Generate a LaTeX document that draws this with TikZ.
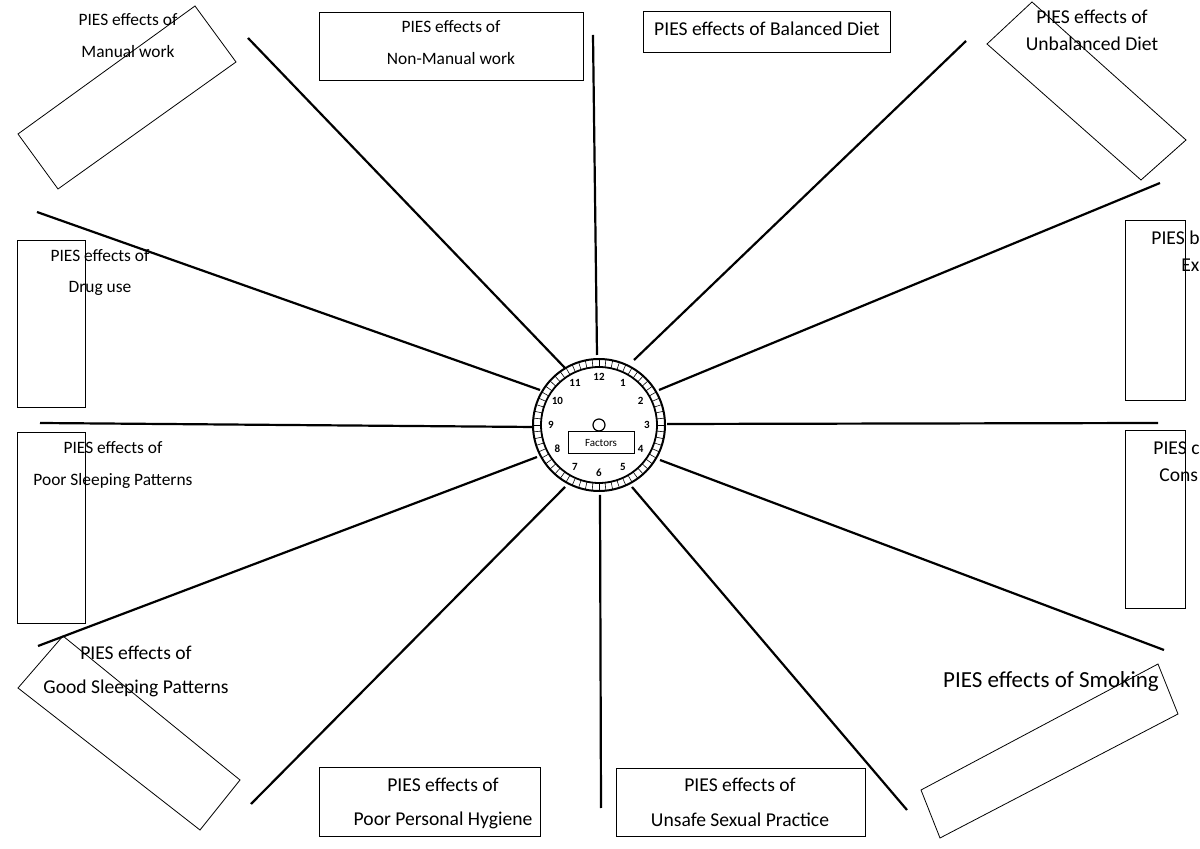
\documentclass[tikz,border=0pt]{standalone}
\usepackage{fontspec}
\setmainfont{Carlito}
\begin{document}
\begin{tikzpicture}[x=0.5pt,y=-0.5pt,
  spoke/.style={line width=1.1pt},
  box/.style={line width=0.4pt},
  lab/.style={font=\fontsize{8.7}{9}\selectfont,inner sep=0pt},
  labb/.style={font=\fontsize{9.8}{10}\selectfont,inner sep=0pt}]
\useasboundingbox (0,0) rectangle (1200,849);
\clip (0,0) rectangle (1200,849);
% spokes
\foreach \i/\a/\b/\c/\d in {1/248/38/565/368,2/593/35/597/355,3/966/41/634/360,4/1160/183/659/390,5/1158/423/667/424,6/1164/650/660/460,7/907/810/632/487,8/601/808/600/495,9/251/804/565/487,10/38/646/537/457,11/40/423/535/427,12/37/212/540/390}
  {\coordinate (s\i a) at (\a,\b); \coordinate (s\i b) at (\c,\d); \draw[spoke] (s\i a) -- (s\i b);}
% boxes
\draw[box] (18,134) -- (195,6) -- (236,62) -- (58,189) -- cycle;
\node[lab] (t1) at (128,20) {PIES effects of};
\node[lab] (t1b) at (128,52) {Manual work};
\draw[box] (319,12) rectangle (583,80);
\node[lab] (t2) at (451,27) {PIES effects of};
\node[lab] (t2b) at (451,59) {Non-Manual work};
\draw[box] (643,11) rectangle (890,52);
\node[labb] (t3) at (767,29) {PIES effects of Balanced Diet};
\draw[box] (987,44) -- (1032,2) -- (1186,140) -- (1141,180) -- cycle;
\node[labb] (t4) at (1092,17) {PIES effects of};
\node[labb] (t4b) at (1092,44) {Unbalanced Diet};
\draw[box] (1125,220) rectangle (1185,400);
\node[labb,anchor=west] (t5) at (1151,238) {PIES b};
\node[labb,anchor=west] (t5b) at (1181,265) {Ex};
\draw[box] (1125,430) rectangle (1185,608);
\node[labb,anchor=west] (t6) at (1153,448) {PIES c};
\node[labb,anchor=west] (t6b) at (1159,475) {Cons};
\draw[box] (17,240) rectangle (85,407);
\node[lab] (t7) at (100,256) {PIES effects of};
\node[lab] (t7b) at (100,288) {Drug use};
\draw[box] (17,432) rectangle (85,623);
\node[lab] (t8) at (113,448) {PIES effects of};
\node[lab] (t8b) at (113,481) {Poor Sleeping Patterns};
\draw[box] (18,688) -- (63,636) -- (240,780) -- (200,830) -- cycle;
\node[labb] (t9) at (136,653) {PIES effects of};
\node[labb] (t9b) at (136,688) {Good Sleeping Patterns};
\draw[box] (319,767) rectangle (540,836);
\node[labb] (t10) at (443,785) {PIES effects of};
\node[labb] (t10b) at (443,820) {Poor Personal Hygiene};
\draw[box] (616,768) rectangle (865,836);
\node[labb] (t11) at (740,785) {PIES effects of};
\node[labb] (t11b) at (740,820) {Unsafe Sexual Practice};
\draw[box] (921,790) -- (1158,664) -- (1178,714) -- (940,838) -- cycle;
\node[font=\fontsize{11.5}{12}\selectfont,inner sep=0pt] (t12) at (1051,681) {PIES effects of Smoking};
% clock
\begin{scope}[shift={(599,425)}]
  \fill[white] (0,0) circle (66);
  \draw[line width=1pt] (0,0) circle (66);
  \draw[line width=0.9pt] (0,0) circle (58);
  \foreach \k in {0,...,59} \draw[line width=0.3pt] (\k*6:58) -- (\k*6:66);
  \foreach \h in {1,...,12}
    \node[font=\bfseries\fontsize{5.5}{5.5}\selectfont,inner sep=0pt] (h\h) at ({-90+30*\h}:48) {\h};
  \draw[line width=0.6pt] (0,0) circle (6);
  \node[draw,line width=0.5pt,minimum width=33pt,minimum height=11pt,inner sep=0pt,font=\fontsize{5.5}{5.5}\selectfont] (fac) at (2,18) {Factors};
\end{scope}
\end{tikzpicture}
\end{document}
